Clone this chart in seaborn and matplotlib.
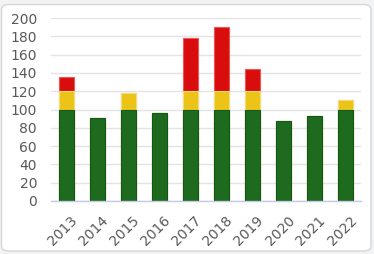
import matplotlib
matplotlib.use("Agg")
import matplotlib.pyplot as plt
import matplotlib.transforms as mtransforms
import seaborn as sns
import numpy as np
import pandas as pd
from matplotlib.patches import FancyBboxPatch

years = ["2013", "2014", "2015", "2016", "2017", "2018", "2019", "2020", "2021", "2022"]
green = [100, 91, 100, 96, 100, 100, 100, 87, 93, 100]
yellow = [20, 0, 18, 0, 20, 20, 20, 0, 0, 10]
red = [16, 0, 0, 0, 58, 70, 24, 0, 0, 0]

df = pd.DataFrame({"year": years, "green": green, "yellow": yellow, "red": red})
df["lvl_green"] = df["green"]
df["lvl_yellow"] = df["green"] + df["yellow"]
df["lvl_red"] = df["green"] + df["yellow"] + df["red"]

sns.set_style("white")
fig = plt.figure(figsize=(3.74, 2.54), dpi=100)
fig.patch.set_facecolor("#f2f3f5")
card = FancyBboxPatch((1.5/374, 3/254), 369.5/374, 246.5/254, boxstyle="round,pad=0,rounding_size=0.02",
                      transform=fig.transFigure, facecolor="white", edgecolor="#d6d6d6",
                      linewidth=1.0, zorder=-10)
fig.patches.append(card)

ax = fig.add_axes([51/374, 1 - 201/254, 310/374, 183/254])
ax.patch.set_alpha(0)

w = 0.48
sns.barplot(data=df, x="year", y="lvl_red", color="#d90d0d", width=w, ax=ax,
            edgecolor="#ee5555", linewidth=0.8, saturation=1)
sns.barplot(data=df, x="year", y="lvl_yellow", color="#ecc417", width=w, ax=ax,
            edgecolor="#f5dc7a", linewidth=0.8, saturation=1)
sns.barplot(data=df, x="year", y="lvl_green", color="#1e6a1e", width=w, ax=ax,
            edgecolor="#0f5a0f", linewidth=0.8, saturation=1)

ax.set_ylim(0, 200)
ax.set_xlim(-0.5, 9.5)
ax.set_yticks(range(0, 201, 20))
ax.yaxis.grid(True, color="#e3e3e3", linewidth=1)
ax.set_axisbelow(True)
for s in ["top", "right", "left"]:
    ax.spines[s].set_visible(False)
ax.spines["bottom"].set_color("#c5cbe6")
ax.spines["bottom"].set_linewidth(1)
ax.set_xlabel("")
ax.set_ylabel("")
ax.tick_params(axis="y", length=0, labelsize=10, labelcolor="#595959", pad=10)
ax.tick_params(axis="x", length=0, labelsize=10, labelcolor="#595959", pad=9)
offset = mtransforms.ScaledTranslation(4/100, 0, fig.dpi_scale_trans)
for lab in ax.get_xticklabels():
    lab.set_rotation(45)
    lab.set_ha("right")
    lab.set_rotation_mode("anchor")
    lab.set_transform(lab.get_transform() + offset)

fig.savefig("out.png", dpi=100, facecolor=fig.get_facecolor())
